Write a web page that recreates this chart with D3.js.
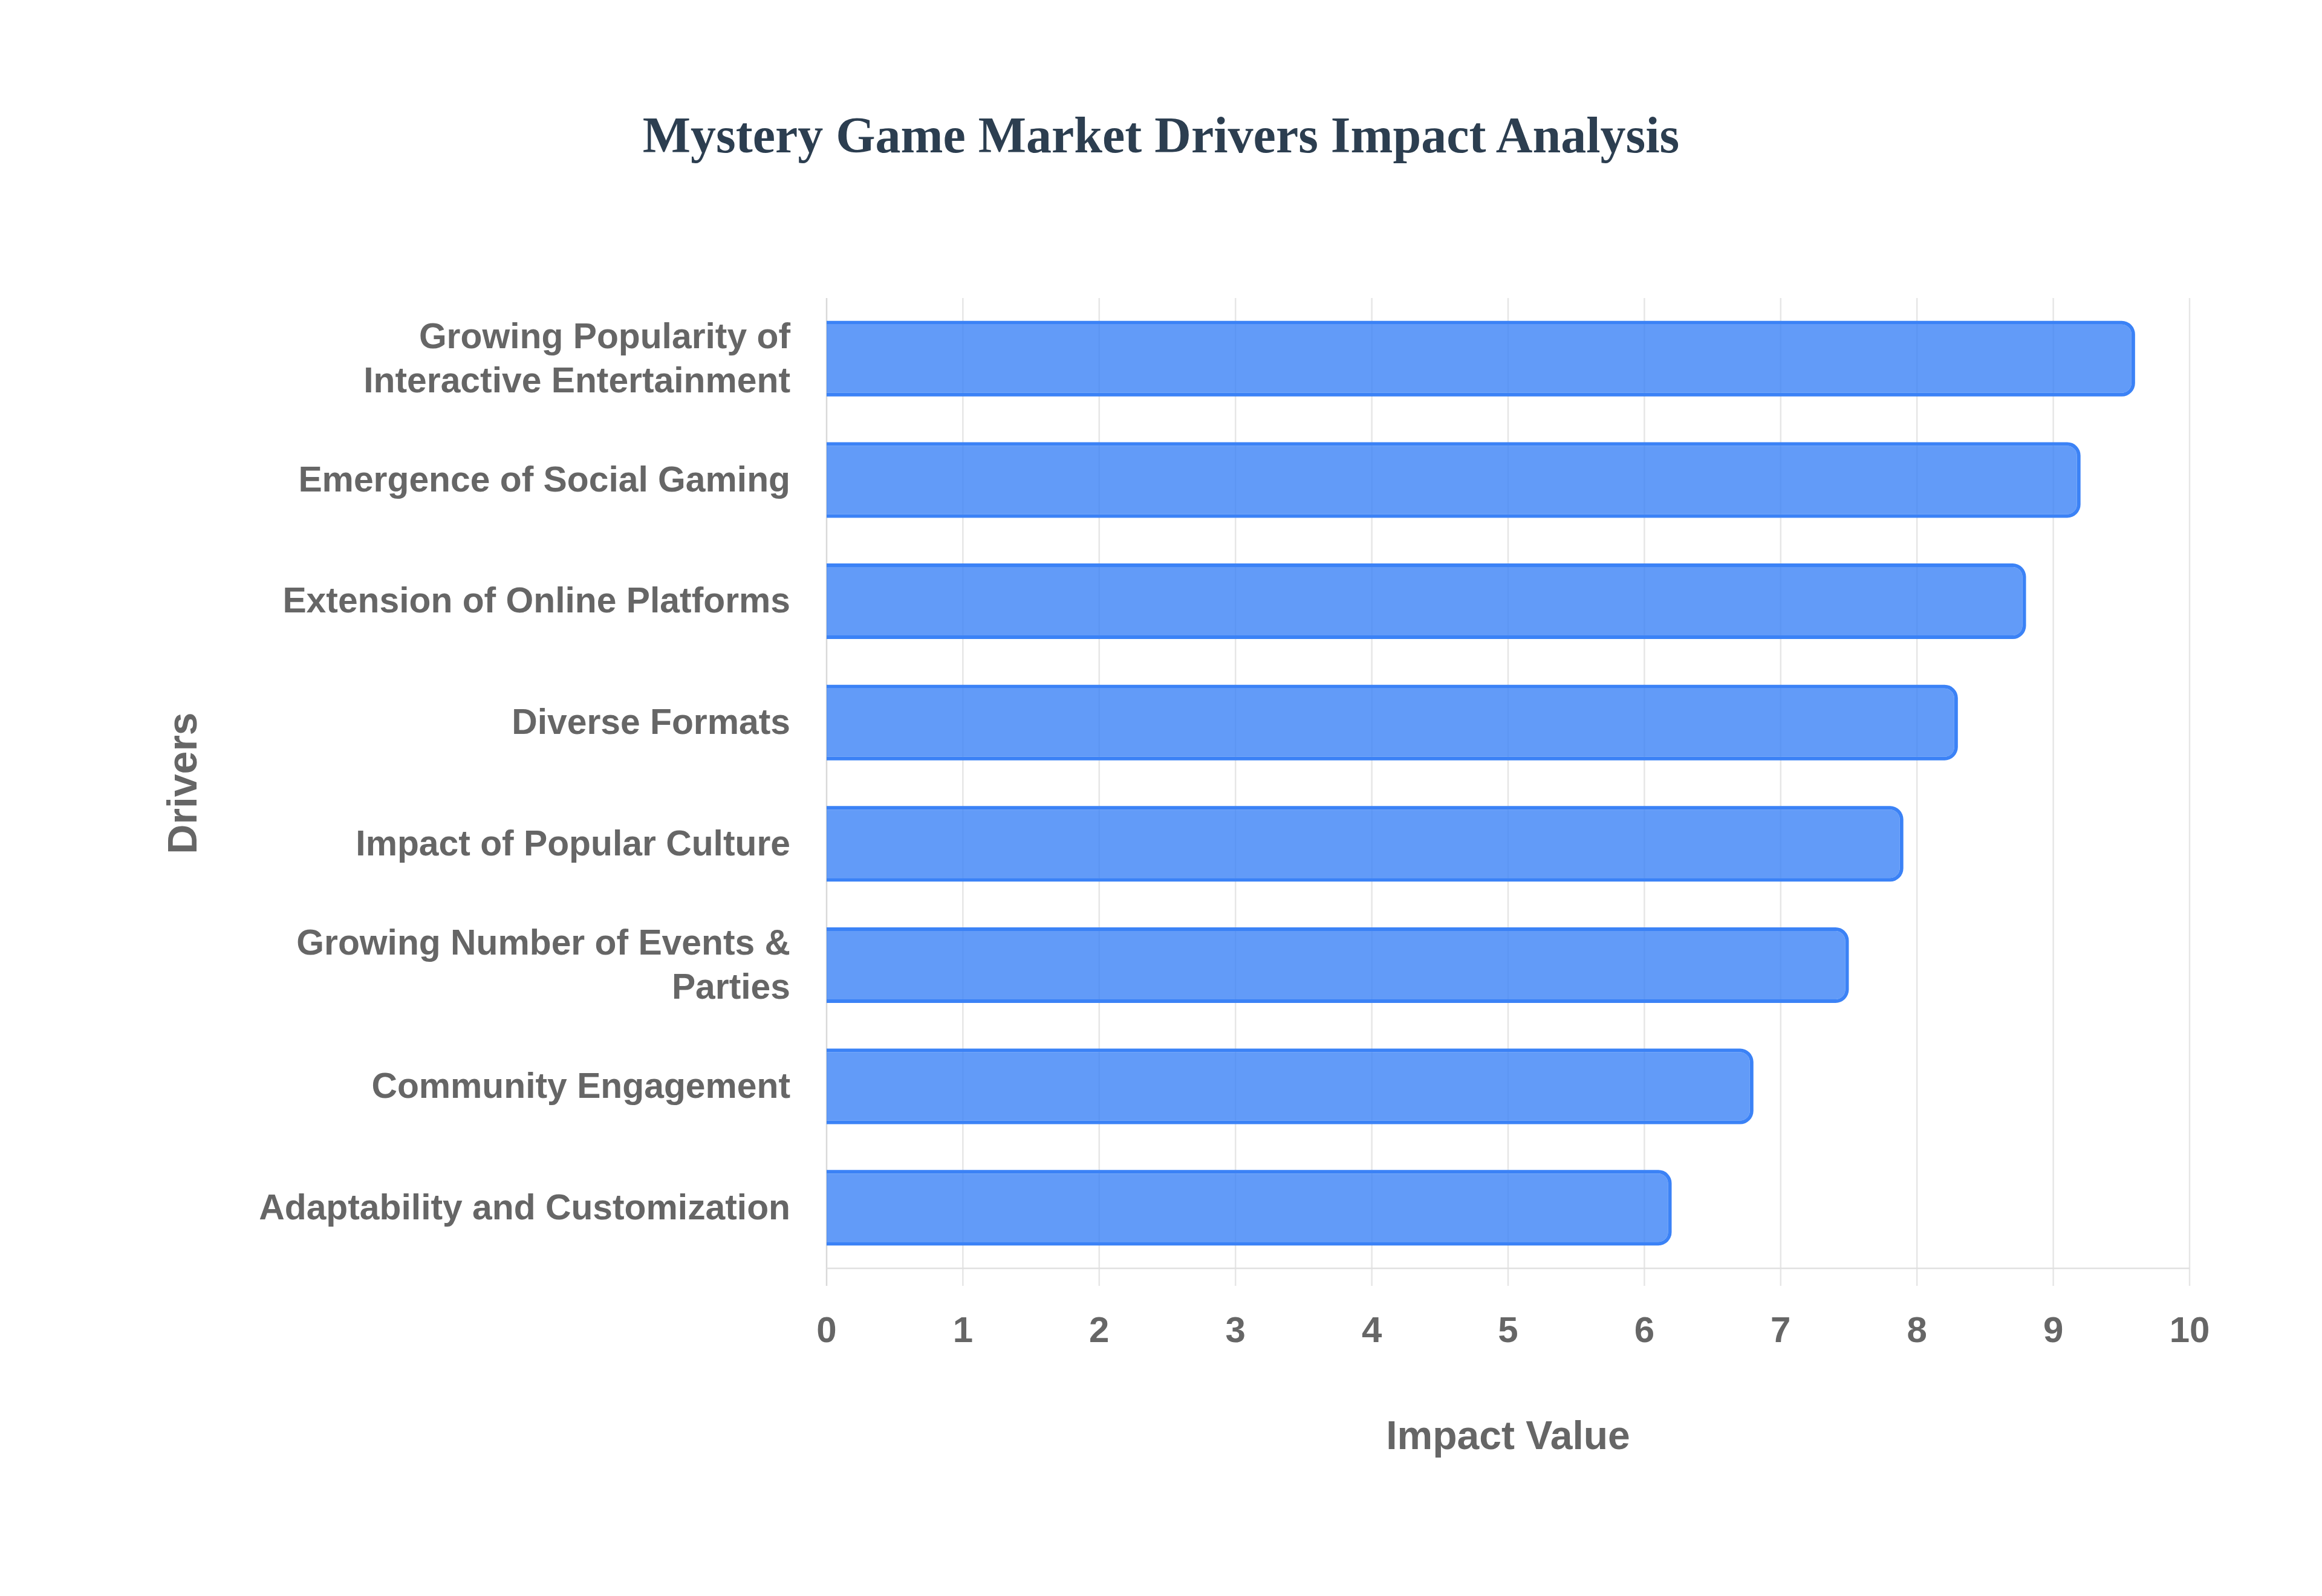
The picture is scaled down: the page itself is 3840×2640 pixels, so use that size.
<!DOCTYPE html>
<html>
<head>
<meta charset="utf-8">
<script src="https://cdn.jsdelivr.net/npm/d3@7"></script>
<style>
  html, body { margin: 0; padding: 0; background: #fff; }
</style>
</head>
<body>
<script>
// data
const drivers = [
  "Growing Popularity of\nInteractive Entertainment",
  "Emergence of Social Gaming",
  "Extension of Online Platforms",
  "Diverse Formats",
  "Impact of Popular Culture",
  "Growing Number of Events &\nParties",
  "Community Engagement",
  "Adaptability and Customization"
];
const impact = [9.6, 9.2, 8.8, 8.3, 7.9, 7.5, 6.8, 6.2];
const xTicks = [0, 1, 2, 3, 4, 5, 6, 7, 8, 9, 10];

const W = 3840, H = 2640;
const plotLeft = 1367, plotRight = 3621, plotTop = 493, plotBottom = 2098;

const labelFont = "'Liberation Sans', Arial, Helvetica, sans-serif";

var svg = d3.select("body")
  .append("svg")
  .attr("width", W)
  .attr("height", H)
  .style("background-color", "#fff");

var x = d3.scaleLinear().domain([0, 10]).range([plotLeft, plotRight]);

var y = d3.scaleBand()
  .domain(drivers)
  .range([plotTop, plotBottom])
  .paddingInner(0.377)
  .paddingOuter(0.1885);

// titolo
svg.append("text")
  .attr("x", W / 2)
  .attr("y", 252)
  .attr("text-anchor", "middle")
  .style("font-family", "'Liberation Serif', 'Times New Roman', serif")
  .style("font-weight", "bold")
  .style("font-size", "84px")
  .style("fill", "#2c3e50")
  .text("Mystery Game Market Drivers Impact Analysis");

// griglia verticale
svg.append("g")
  .selectAll("line")
  .data(xTicks)
  .enter()
  .append("line")
  .attr("x1", d => x(d))
  .attr("x2", d => x(d))
  .attr("y1", plotTop)
  .attr("y2", plotBottom + 29)
  .attr("stroke", d => d === 0 ? "#d9d9d9" : "#e6e6e6")
  .attr("stroke-width", 2.5);

// linea dell'asse x
svg.append("line")
  .attr("x1", plotLeft)
  .attr("x2", plotRight)
  .attr("y1", plotBottom)
  .attr("y2", plotBottom)
  .attr("stroke", "#e0e0e0")
  .attr("stroke-width", 2.5);

// barre con bordo, angoli destri arrotondati
function rightRound(x0, y0, w, h, r) {
  r = Math.max(0, Math.min(r, w, h / 2));
  return "M" + x0 + "," + y0 +
    "H" + (x0 + w - r) +
    "A" + r + "," + r + " 0 0 1 " + (x0 + w) + "," + (y0 + r) +
    "V" + (y0 + h - r) +
    "A" + r + "," + r + " 0 0 1 " + (x0 + w - r) + "," + (y0 + h) +
    "H" + x0 + "Z";
}

const bw = 6, radius = 22;

var bars = svg.append("g")
  .selectAll("g")
  .data(drivers)
  .enter()
  .append("g");

bars.append("path")
  .attr("d", (d, i) => {
    let x0 = x(0), w = x(impact[i]) - x(0), y0 = y(d), h = y.bandwidth();
    return rightRound(x0, y0, w, h, radius) +
      rightRound(x0, y0 + bw, w - bw, h - 2 * bw, radius - bw);
  })
  .attr("fill-rule", "evenodd")
  .attr("fill", "#3b82f6");

bars.append("path")
  .attr("d", (d, i) => {
    let x0 = x(0), w = x(impact[i]) - x(0), y0 = y(d), h = y.bandwidth();
    return rightRound(x0, y0 + bw, w - bw, h - 2 * bw, radius - bw);
  })
  .attr("fill", "rgba(59,130,246,0.8)");

// etichette asse y
var yLabels = svg.append("g")
  .selectAll("text")
  .data(drivers)
  .enter()
  .append("text")
  .attr("text-anchor", "end")
  .style("font-family", labelFont)
  .style("font-weight", "bold")
  .style("font-size", "58.8px")
  .style("fill", "#666");

const lineH = 73;
yLabels.each(function (d) {
  let lines = d.split("\n");
  let cy = y(d) + y.bandwidth() / 2;
  let first = cy - (lines.length - 1) * lineH / 2;
  lines.forEach((t, k) => {
    d3.select(this).append("tspan")
      .attr("x", 1307)
      .attr("y", first + k * lineH)
      .attr("dy", "0.32em")
      .text(t);
  });
});

// etichette asse x
svg.append("g")
  .selectAll("text")
  .data(xTicks)
  .enter()
  .append("text")
  .attr("x", d => x(d))
  .attr("y", 2220)
  .attr("text-anchor", "middle")
  .style("font-family", labelFont)
  .style("font-weight", "bold")
  .style("font-size", "60px")
  .style("fill", "#666")
  .text(d => d);

// titoli degli assi
svg.append("text")
  .attr("x", (plotLeft + plotRight) / 2)
  .attr("y", 2397)
  .attr("text-anchor", "middle")
  .style("font-family", labelFont)
  .style("font-weight", "bold")
  .style("font-size", "66px")
  .style("fill", "#666")
  .text("Impact Value");

svg.append("text")
  .attr("transform", "translate(325," + ((plotTop + plotBottom) / 2) + ") rotate(-90)")
  .attr("text-anchor", "middle")
  .style("font-family", labelFont)
  .style("font-weight", "bold")
  .style("font-size", "68px")
  .style("fill", "#666")
  .text("Drivers");
</script>
</body>
</html>
